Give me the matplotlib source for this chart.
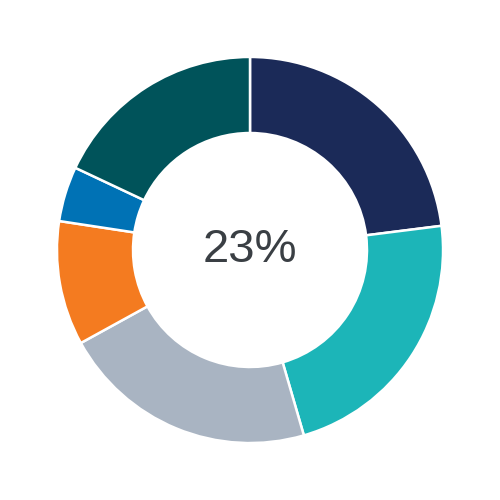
import matplotlib
matplotlib.use("Agg")
import matplotlib.pyplot as plt

labels = ["A", "B", "C", "D", "E", "F"]
values = [23, 22.5, 21.5, 10.4, 4.6, 18]
colors = ["#1b2a58", "#1cb5b8", "#a9b4c2", "#f47b20", "#0072b5", "#00535a"]
center_text = "23%"

fig = plt.figure(figsize=(5, 5), dpi=100)
ax = fig.add_axes([0, 0, 1, 1])
ax.pie(values, colors=colors, startangle=90, counterclock=False, radius=1.0,
       wedgeprops=dict(width=0.394, edgecolor="white", linewidth=1.8))
ax.set_xlim(-1.295, 1.295)
ax.set_ylim(-1.295, 1.295)
ax.set_aspect("equal")
ax.axis("off")
ax.text(0, 0, center_text, ha="center", va="center", fontsize=34,
        color="#3a3f44", family=["Liberation Sans", "DejaVu Sans"])
fig.savefig("out.png", dpi=100, facecolor="white")
